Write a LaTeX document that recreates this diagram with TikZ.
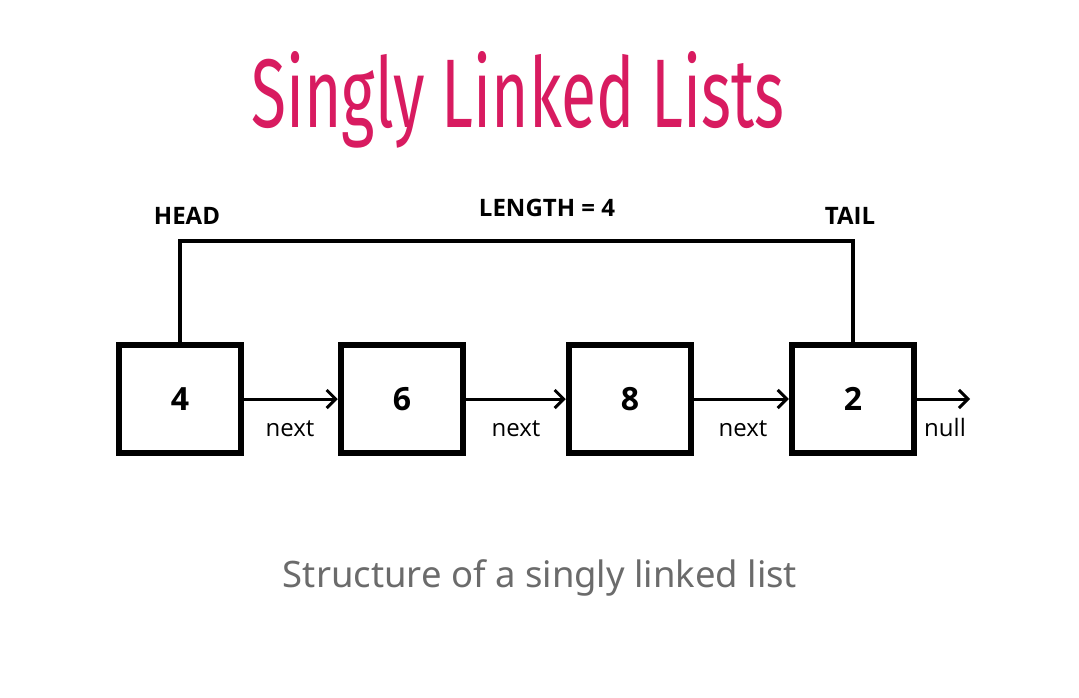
\documentclass[tikz,border=0pt]{standalone}
\usepackage{fontspec}
\usepackage{graphicx}
\setmainfont{Open Sans}
\newfontfamily\titlefont{Fira Sans}
\newfontfamily\capfont{Noto Sans}
\usetikzlibrary{arrows.meta}
\definecolor{pinkt}{HTML}{D81B60}
\definecolor{capgray}{HTML}{6B6B6B}
\tikzset{
  lnode/.style={draw, line width=6.5pt, minimum width=122pt, minimum height=108pt, inner sep=0, font=\fontsize{32}{32}\selectfont\bfseries},
  lab/.style={font=\fontsize{24}{24}\selectfont\bfseries},
  nxt/.style={font=\fontsize{24}{24}\selectfont},
  link/.style={line width=3pt, -{Straight Barb[length=9pt,width=18pt,line width=3pt]}},
  bar/.style={line width=4pt}
}
\begin{document}
\begin{tikzpicture}[x=1pt,y=-1pt]
\useasboundingbox (0,0) rectangle (1079,697);
\node (title) at (518,100) {\resizebox{533pt}{76pt}{\titlefont\color{pinkt}Singly Linked Lists}};
\node[lnode] (n1) at (180,399) {4};
\node[lnode] (n2) at (402,399) {6};
\node[lnode] (n3) at (630,399) {8};
\node[lnode] (n4) at (853,399) {2};
\coordinate (nl) at (970,399);
\draw[link] (n1) -- (n2);
\draw[link] (n2) -- (n3);
\draw[link] (n3) -- (n4);
\draw[link] (n4) -- (nl);
\node[nxt] (x1) at (290,429) {next};
\node[nxt] (x2) at (516,429) {next};
\node[nxt] (x3) at (743,429) {next};
\node[nxt, anchor=west, inner sep=0] (x4) at (924,427) {null};
\draw[bar] (n1.north) -- (180,241) -| (n4.north);
\node[lab] (head) at (187,216) {HEAD};
\node[lab] (len) at (547,208) {LENGTH = 4};
\node[lab] (tail) at (850,216) {TAIL};
\node (cap) at (540,578) {\resizebox{514pt}{!}{\capfont\color{capgray}Structure of a singly linked list}};
\end{tikzpicture}
\end{document}
